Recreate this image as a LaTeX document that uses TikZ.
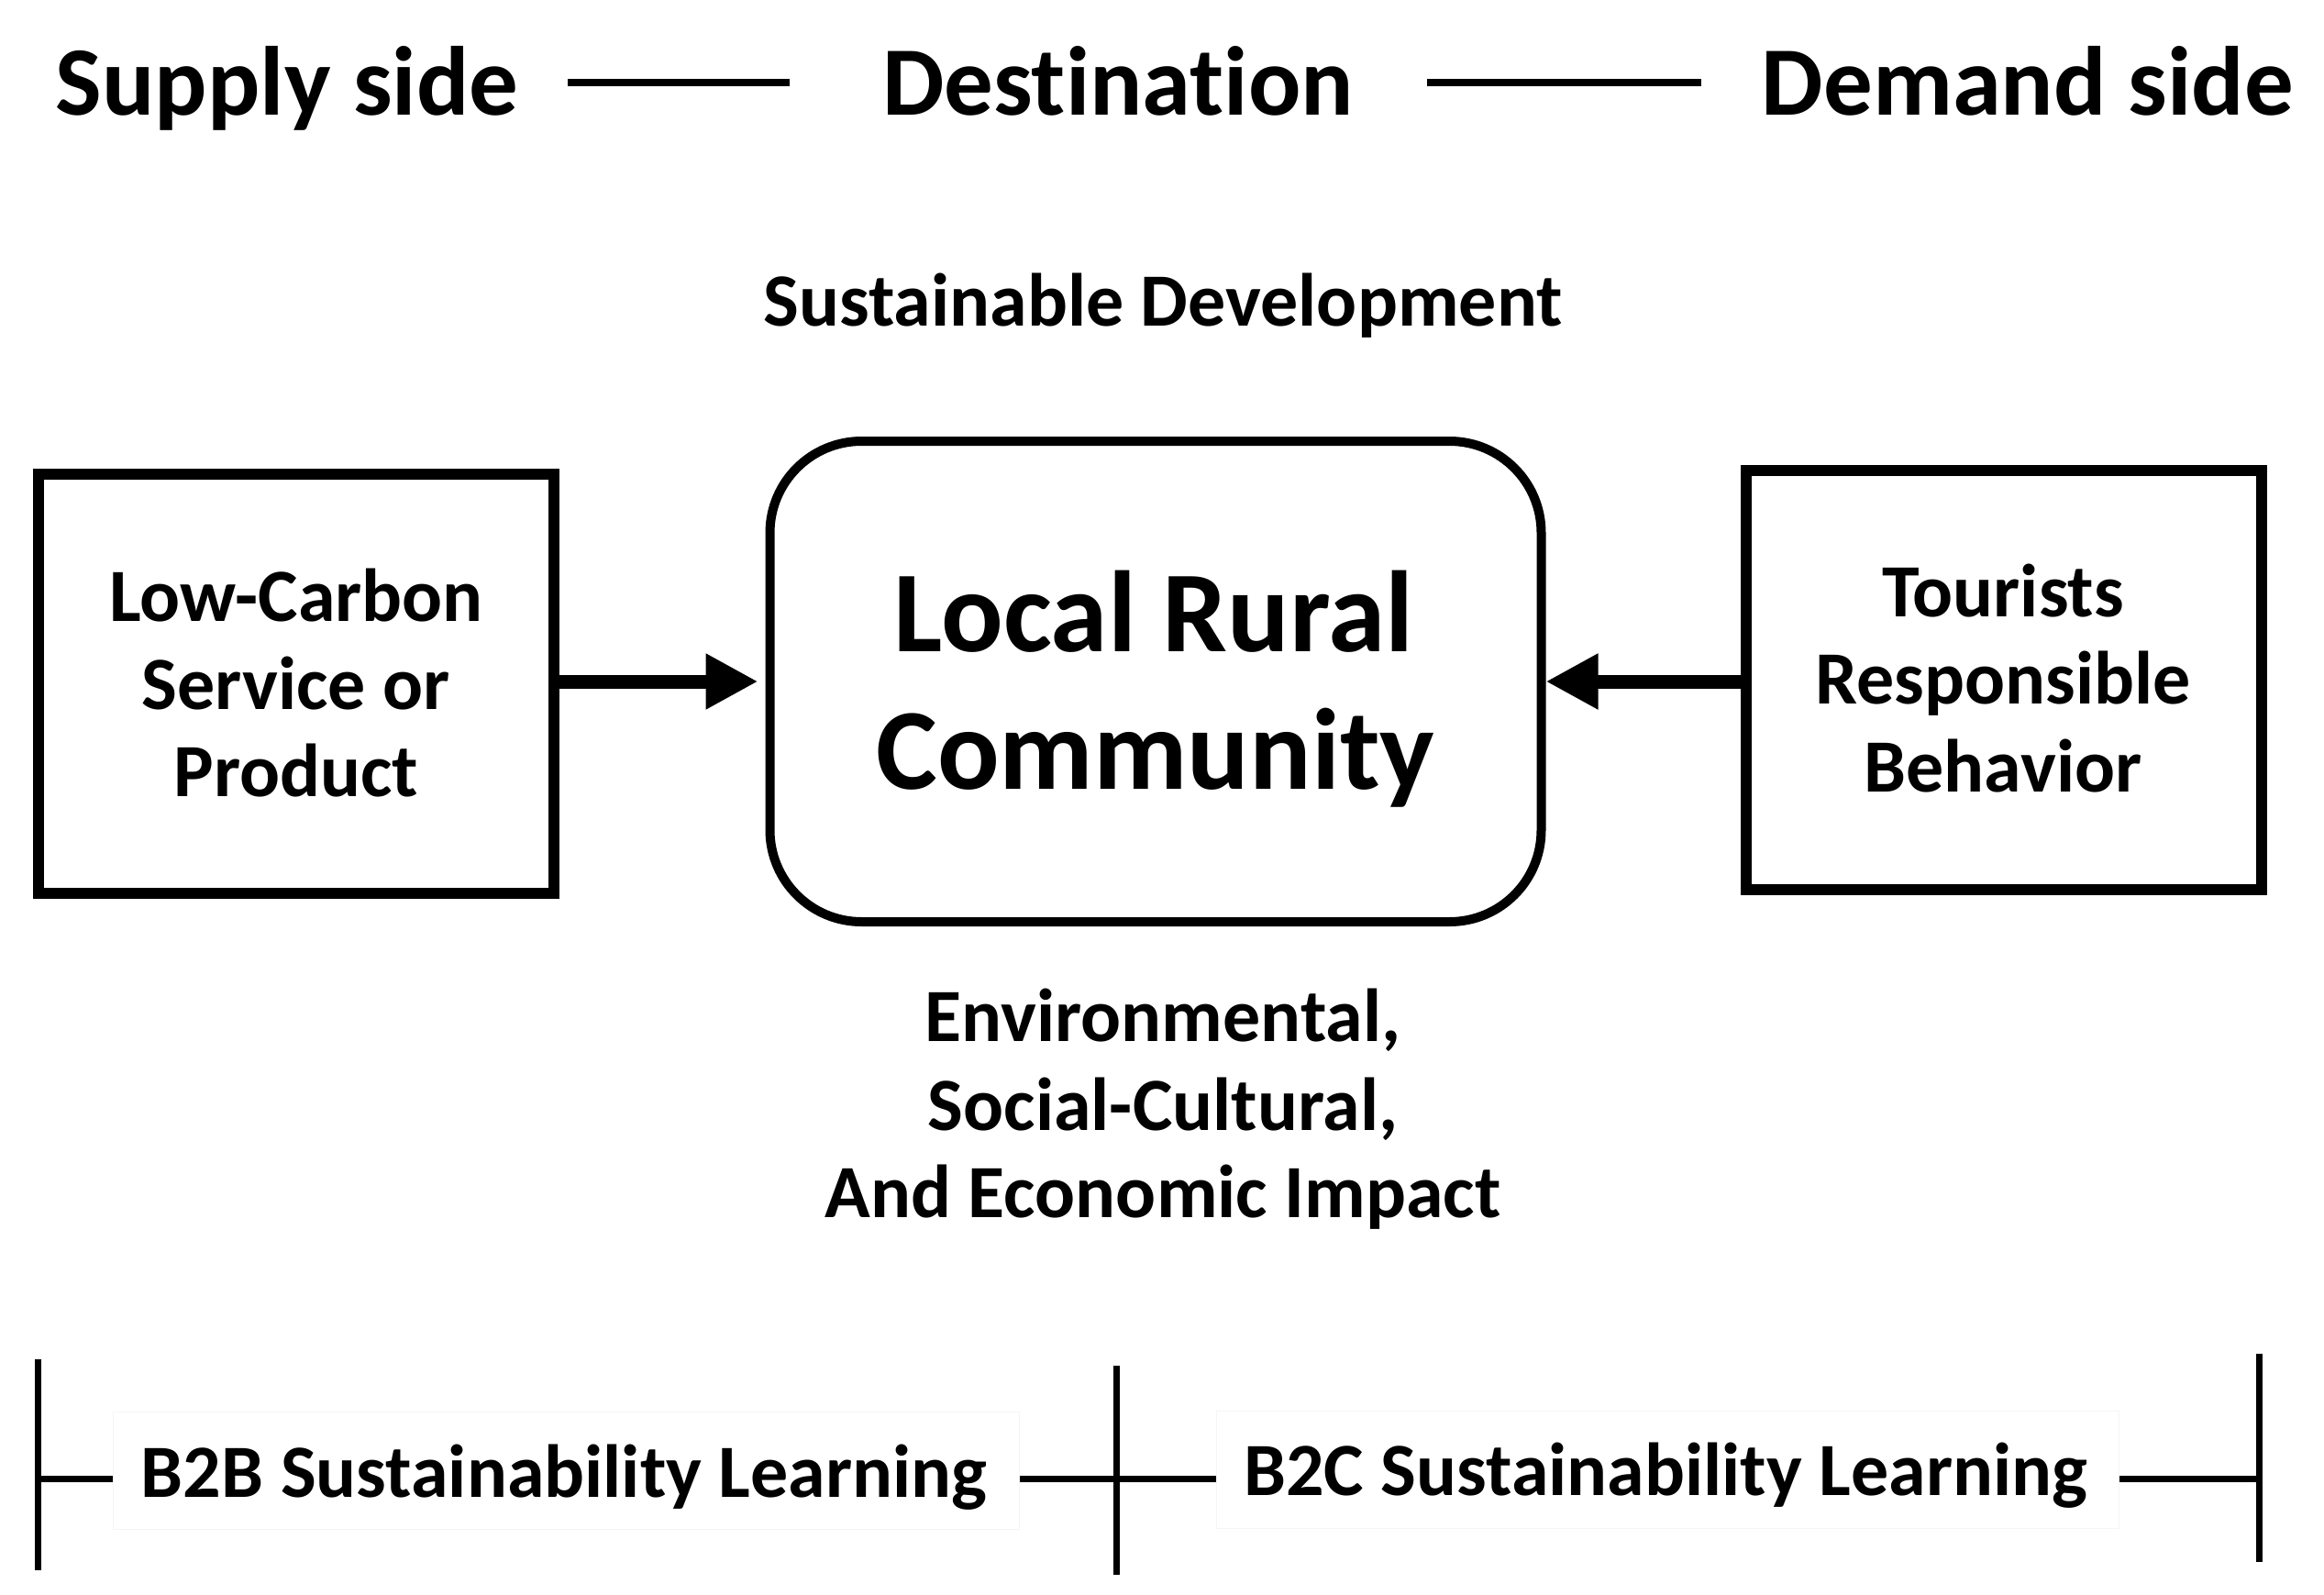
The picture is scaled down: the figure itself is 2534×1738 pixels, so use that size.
\documentclass[tikz,border=0pt]{standalone}
\usepackage{fontspec}
\setmainfont{Carlito}[Ligatures=NoCommon]
\usetikzlibrary{arrows.meta}
\begin{document}
\begin{tikzpicture}[x=1pt,y=-1pt,
  txt/.style={anchor=base,inner sep=0pt,font=\bfseries\fontsize{#1}{#1}\selectfont},
  sqbox/.style={draw,line width=12pt,minimum width=562pt,minimum height=457pt,inner sep=0pt},
  roundbox/.style={draw,line width=10pt,rounded corners=100pt,minimum width=841pt,minimum height=524pt,inner sep=0pt},
  thickarrow/.style={line width=15pt,-{Triangle[length=57pt,width=57pt]}},
  rule/.style={line width=8pt},
  barline/.style={line width=7pt},
  labbox/.style={fill=white,draw=black!4,line width=1pt,minimum width=988pt,minimum height=128pt,inner sep=0pt}
]
\useasboundingbox[fill=white] (0,0) rectangle (2534,1738);

% top header
\node[txt=107] (supply) at (313,125) {Supply side};
\node[txt=107] (dest) at (1219,125) {Destination};
\node[txt=107] (demand) at (2211,125) {Demand side};
\coordinate (t1a) at (619,90);
\coordinate (t1b) at (861,90);
\coordinate (t2a) at (1556,90);
\coordinate (t2b) at (1855,90);
\draw[rule] (t1a) -- (t1b);
\draw[rule] (t2a) -- (t2b);

\node[txt=82] (sd) at (1268,355) {Sustainable Development};

% boxes
\node[sqbox] (lbox) at (323,745) {};
\node[roundbox] (cbox) at (1260,743) {};
\node[sqbox] (rbox) at (2185,741) {};

\node[txt=82] (l1) at (323,677) {Low-Carbon};
\node[txt=82] (l2) at (323,773) {Service or};
\node[txt=82] (l3) at (323,868) {Product};

\node[txt=126] (c1) at (1258,710) {Local Rural};
\node[txt=126] (c2) at (1260,860) {Community};

\node[txt=82] (r1) at (2184,672) {Tourists};
\node[txt=82] (r2) at (2184,767) {Responsible};
\node[txt=82] (r3) at (2184,863) {Behavior};

\draw[thickarrow,shorten >=8pt] (lbox.east |- 0,743) -- (cbox.west |- 0,743);
\draw[thickarrow] (rbox.west |- 0,743) -- (cbox.east |- 0,743);

\node[txt=82] (e1) at (1268,1135) {Environmental,};
\node[txt=82] (e2) at (1268,1232) {Social-Cultural,};
\node[txt=82] (e3) at (1268,1327) {And Economic Impact};

% bottom bar
\coordinate (bl1) at (41,1482);
\coordinate (bl2) at (41,1712);
\coordinate (bm1) at (1217,1489);
\coordinate (bm2) at (1217,1717);
\coordinate (br1) at (2463,1476);
\coordinate (br2) at (2463,1703);
\coordinate (hl) at (41,1612);
\coordinate (hr) at (2463,1612);
\draw[barline] (bl1) -- (bl2);
\draw[barline] (bm1) -- (bm2);
\draw[barline] (br1) -- (br2);
\draw[barline] (hl) -- (hr);
\node[labbox] (b2bbox) at (617,1603) {};
\node[labbox,minimum width=984pt] (b2cbox) at (1818,1602) {};
\node[txt=82] (b2b) at (615,1632) {B2B Sustainability Learning};
\node[txt=82] (b2c) at (1816,1630) {B2C Sustainability Learning};
\end{tikzpicture}
\end{document}
